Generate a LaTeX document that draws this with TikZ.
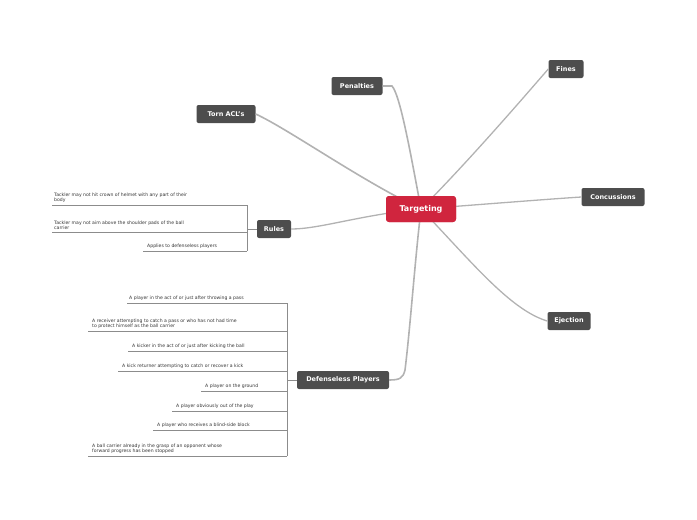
\documentclass[tikz,border=0pt]{standalone}
\usepackage{fontspec}
\setmainfont{DejaVu Sans}
\begin{document}
\begin{tikzpicture}[x=1pt,y=-1pt,
 topic/.style={rounded corners=2pt,fill=boxgray,text=white,font=\fontsize{6.5}{7}\selectfont\bfseries,minimum height=18pt,inner xsep=6pt},
 leaf/.style={font=\fontsize{4.6}{5.6}\selectfont,text=black!80,inner sep=0pt},
 uline/.style={draw=black!45,line width=0.6pt},
 conn/.style={draw=black!30,line width=1.3pt}]
\definecolor{boxgray}{HTML}{4D4D4D}
\definecolor{redc}{HTML}{D0253E}
\useasboundingbox (0,0) rectangle (697,520);
\node[rounded corners=3pt,fill=redc,text=white,font=\fontsize{8}{9}\selectfont\bfseries,minimum width=70pt,minimum height=26pt] (t) at (421,209) {Targeting};
\node[topic,minimum width=51pt] (pen) at (357,86) {Penalties};
\node[topic,minimum width=35pt] (fin) at (566,69) {Fines};
\node[topic,minimum width=59pt] (acl) at (226,114) {Torn ACL's};
\node[topic,minimum width=63pt] (con) at (613,197) {Concussions};
\node[topic,minimum width=34pt] (rul) at (274,229) {Rules};
\node[topic,minimum width=43pt] (eje) at (569,321) {Ejection};
\node[topic,minimum width=92pt] (def) at (343,380) {Defenseless Players};
\begin{scope}[on background layer/.style={}]
\end{scope}
% connectors
\path[conn,line width=1.6pt] (t.center) .. controls (410,150) and (400,95) .. (392,86) -- (pen.east);
\path[conn] (t.center) .. controls (470,160) and (530,90) .. (fin.west);
\path[conn,line width=1.6pt] (t.center) .. controls (360,180) and (290,130) .. (acl.east);
\path[conn] (t.center) .. controls (500,203) and (550,199) .. (con.west);
\path[conn] (t.center) .. controls (360,215) and (320,229) .. (rul.east);
\path[conn] (t.center) .. controls (470,260) and (510,310) .. (eje.west);
\path[conn,line width=1.6pt] (t.center) .. controls (415,260) and (410,330) .. (405,370) .. controls (403,378) and (400,380) .. (def.east);
\node[rounded corners=3pt,fill=redc,text=white,font=\fontsize{8}{9}\selectfont\bfseries,minimum width=70pt,minimum height=26pt] at (421,209) {Targeting};
% Rules leaves
\coordinate (rj) at (247,229);
\draw[uline] (rul.west) -- (rj);
\draw[uline] (247,205) -- (247,251);
\draw[uline] (52,205) -- (247,205);
\draw[uline] (52,232) -- (247,232);
\draw[uline] (143,251) -- (247,251);
\node[leaf,anchor=south west,align=left] (r1) at (54,203) {Tackler may not hit crown of helmet with any part of their\\body};
\node[leaf,anchor=south west,align=left] (r2) at (54,230) {Tackler may not aim above the shoulder pads of the ball\\carrier};
\node[leaf,anchor=south west] (r3) at (147,249) {Applies to defenseless players};
% Defenseless leaves
\draw[uline] (def.west) -- (287,380);
\draw[uline] (287,303) -- (287,456);
\foreach \x/\y in {127/303,88/331,128/351,118/371,201/391,172/411,153/430,88/456}
  \draw[uline] (\x,\y) -- (287,\y);
\node[leaf,anchor=south west] (d1) at (129,301) {A player in the act of or just after throwing a pass};
\node[leaf,anchor=south west,align=left] (d2) at (92,329) {A receiver attempting to catch a pass or who has not had time\\to protect himself as the ball carrier};
\node[leaf,anchor=south west] (d3) at (132,349) {A kicker in the act of or just after kicking the ball};
\node[leaf,anchor=south west] (d4) at (122,369) {A kick returner attempting to catch or recover a kick};
\node[leaf,anchor=south west] (d5) at (205,389) {A player on the ground};
\node[leaf,anchor=south west] (d6) at (176,409) {A player obviously out of the play};
\node[leaf,anchor=south west] (d7) at (157,428) {A player who receives a blind-side block};
\node[leaf,anchor=south west,align=left] (d8) at (92,454) {A ball carrier already in the grasp of an opponent whose\\forward progress has been stopped};
\end{tikzpicture}
\end{document}
